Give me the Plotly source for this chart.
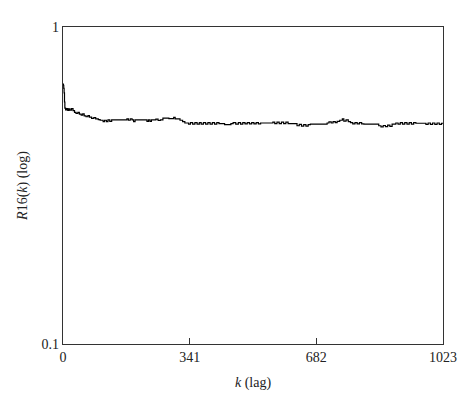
import plotly.graph_objects as go

# step breakpoints of R16(k): lag where a new level starts, and the level
lag_breaks = [0, 1, 2, 3, 4, 5, 7, 10, 13, 16, 19, 23, 27, 31, 35, 40, 44, 49, 53, 57,
              62, 67, 71, 77, 83, 88, 95, 100, 108, 112, 117, 121, 126, 131, 172, 176,
              181, 186, 190, 194, 199, 226, 230, 234, 238, 250, 256, 262, 269, 285,
              298, 302, 315, 322, 328, 338, 343, 349, 355, 361, 367, 372, 378, 384,
              390, 396, 402, 408, 414, 420, 435, 452, 458, 465, 472, 478, 484, 490,
              496, 502, 508, 514, 520, 526, 532, 565, 570, 576, 582, 588, 594, 600,
              606, 630, 636, 642, 648, 654, 660, 666, 711, 716, 722, 727, 733, 738,
              745, 752, 756, 762, 768, 774, 780, 786, 792, 798, 804, 810, 850, 856,
              862, 868, 874, 880, 886, 896, 902, 908, 914, 920, 926, 932, 938, 944,
              950, 977, 983, 989, 995, 1001, 1007, 1013, 1019, 1023]
r16_values = [0.66, 0.655, 0.64, 0.62, 0.58, 0.555, 0.548, 0.553, 0.546, 0.552, 0.547,
              0.553, 0.545, 0.538, 0.534, 0.538, 0.531, 0.527, 0.532, 0.524, 0.521,
              0.525, 0.52, 0.515, 0.518, 0.513, 0.51, 0.508, 0.503, 0.508, 0.503,
              0.509, 0.504, 0.509, 0.513, 0.508, 0.513, 0.509, 0.503, 0.509, 0.509,
              0.504, 0.509, 0.504, 0.509, 0.512, 0.507, 0.509, 0.516, 0.514, 0.519,
              0.513, 0.508, 0.503, 0.498, 0.494, 0.499, 0.494, 0.499, 0.494, 0.499,
              0.494, 0.499, 0.494, 0.499, 0.494, 0.499, 0.494, 0.499, 0.496, 0.492,
              0.496, 0.499, 0.494, 0.499, 0.494, 0.499, 0.495, 0.499, 0.495, 0.499,
              0.495, 0.499, 0.495, 0.498, 0.501, 0.496, 0.501, 0.496, 0.501, 0.496,
              0.501, 0.496, 0.488, 0.493, 0.487, 0.492, 0.487, 0.492, 0.494, 0.498,
              0.502, 0.498, 0.503, 0.499, 0.504, 0.508, 0.513, 0.505, 0.509, 0.503,
              0.499, 0.495, 0.499, 0.495, 0.499, 0.495, 0.494, 0.488, 0.484, 0.489,
              0.485, 0.49, 0.486, 0.494, 0.498, 0.494, 0.499, 0.494, 0.499, 0.494,
              0.499, 0.494, 0.499, 0.497, 0.493, 0.498, 0.493, 0.498, 0.493, 0.498,
              0.493, 0.497, 0.497]

x_ticks = [0, 341, 682, 1023]
y_ticks = [0.1, 1]
y_tick_text = ["0.1", "1"]

FONT = "Liberation Serif, Times New Roman, serif"

fig = go.Figure()
fig.add_trace(go.Scatter(x=lag_breaks, y=r16_values, mode="lines",
                         line=dict(color="black", width=1.2, shape="hv"),
                         showlegend=False, hoverinfo="skip"))

fig.update_layout(
    width=474, height=408,
    margin=dict(l=55, r=39, t=16, b=72),
    paper_bgcolor="white", plot_bgcolor="white",
    font=dict(family=FONT, size=14, color="#222"),
)
fig.update_xaxes(range=[0, 1023], tickvals=x_ticks, ticktext=[str(v) for v in x_ticks],
                 ticks="inside", ticklen=6, tickcolor="#333", tickwidth=1.2,
                 showline=True, linecolor="#333", linewidth=1.2, mirror=True,
                 showgrid=False, zeroline=False,
                 title=dict(text="<i>k</i> (lag)", standoff=13, font=dict(size=14)))
fig.update_yaxes(type="log", range=[-1, 0], tickvals=y_ticks, ticktext=y_tick_text,
                 ticks="", showline=True, linecolor="#333", linewidth=1.2, mirror=True,
                 showgrid=False, zeroline=False,
                 title=dict(text="<i>R</i>16(<i>k</i>) (log)", standoff=10, font=dict(size=14)))

fig.write_html("out.html")
